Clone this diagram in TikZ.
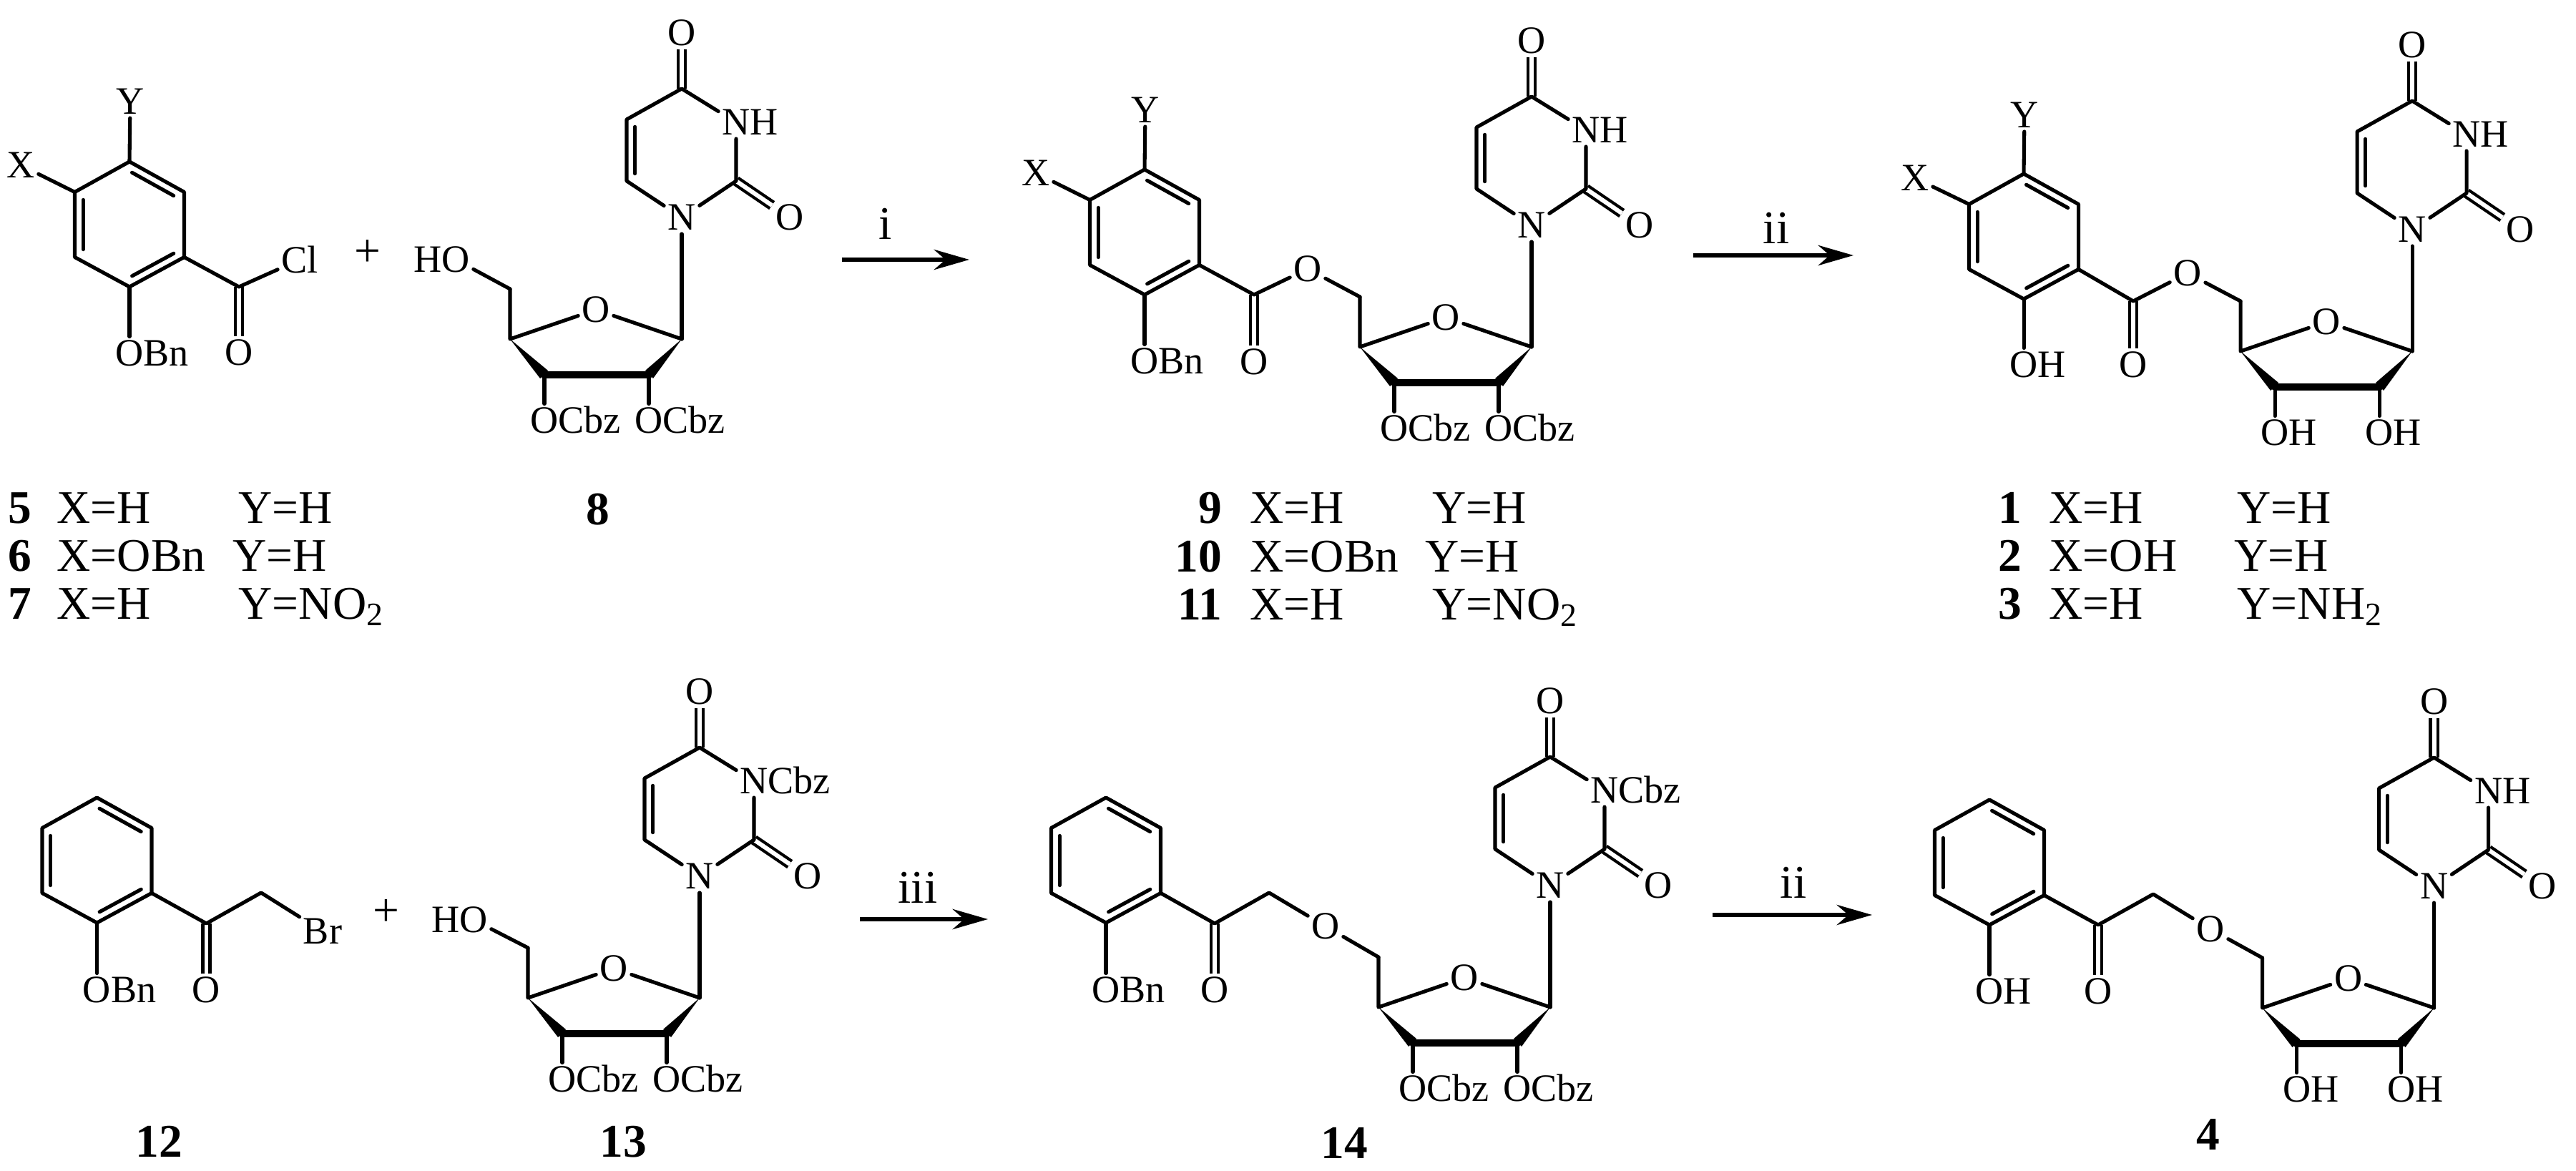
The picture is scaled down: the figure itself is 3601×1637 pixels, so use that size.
\documentclass[tikz,border=0pt]{standalone}
\usepackage{fontspec}
\setmainfont{Liberation Serif}
\usetikzlibrary{calc,arrows.meta}

\newcommand{\atomfont}{\fontsize{15.4}{18}\selectfont}
\newcommand{\listfont}{\fontsize{18.6}{22}\selectfont}

\tikzset{
	bond/.style={line width=1.45pt,line join=round,line cap=round},
	dbond/.style={line width=1.2pt,double,double distance=1.7pt},
	boldbond/.style={line width=3pt,line cap=round},
	atom/.style={font=\atomfont,inner sep=1.5pt,outer sep=0pt},
	tail/.style={font=\atomfont,inner sep=0pt,outer sep=0pt,anchor=base west,xshift=-1.5pt},
	head/.style={font=\atomfont,inner sep=0pt,outer sep=0pt,anchor=base east,xshift=1.5pt},
	listtext/.style={font=\listfont,inner sep=0pt,anchor=base west},
	listnum/.style={font=\listfont\bfseries,inner sep=0pt,anchor=base east},
	cpd/.style={font=\listfont\bfseries,inner sep=0pt},
	reagent/.style={font=\listfont,inner sep=0pt},
	rxn/.style={line width=1.8pt,-{Stealth[length=14pt,width=8pt]}}
}

% inner line of a double bond, on the right of a -> b
\newcommand{\innerbond}[2]{\draw[bond] ($(#1)!0.12!(#2)!3.3pt!-90:(#2)$) -- ($(#2)!0.12!(#1)!3.3pt!90:(#1)$);}

% benzene ring, #2 is its top vertex
\newcommand{\benzring}[2]{
	\begin{scope}[shift={#2},name prefix=#1-]
		\coordinate (r1) at (0,0);
		\coordinate (r2) at (76.5,42.5);
		\coordinate (r3) at (76.5,133.5);
		\coordinate (r4) at (0,175);
		\coordinate (r5) at (-76.5,133.5);
		\coordinate (r6) at (-76.5,42.5);
		\draw[bond] (r1) -- (r2) -- (r3) -- (r4) -- (r5) -- (r6) -- cycle;
		\innerbond{r1}{r2}
		\innerbond{r3}{r4}
		\innerbond{r5}{r6}
	\end{scope}
}

% sugar and uracil, #2 is the carbon under the ring nitrogen
\newcommand{\nucleoside}[4]{
	\begin{scope}[shift={#2},name prefix=#1-]
		\coordinate (c1) at (0,0);
		\coordinate (c2) at (-46,50);
		\coordinate (c3) at (-192,50);
		\coordinate (c4) at (-240,0);
		\coordinate (c5) at (-240,-70);
		\node[atom] (o4s) at (-120,-41) {O};
		\node[atom] (o2s) at (-46,114) {O};
		\node[atom] (o3s) at (-192,114) {O};
		\node[tail] (r2s) at (o2s.base east) {#4};
		\node[tail] (r3s) at (o3s.base east) {#4};
		\node[atom] (n1) at (0,-170) {N};
		\node[atom] (n3) at (76,-303) {N};
		\node[tail] (r3n) at (n3.base east) {#3};
		\coordinate (u2) at (76,-221);
		\coordinate (u4) at (0,-350);
		\coordinate (u5) at (-77,-307);
		\coordinate (u6) at (-77,-221);
		\node[atom] (o2u) at (151,-170) {O};
		\node[atom] (o4u) at (0,-428) {O};
		% double bonds go first, their white core must not cut the others
		\draw[dbond] (u2) -- (o2u);
		\draw[dbond] (u4) -- (o4u);
		\draw[bond] (n1) -- (c1);
		\draw[bond] (n1) -- (u6) -- (u5) -- (u4) -- (n3) -- (u2) -- (n1);
		\innerbond{u6}{u5}
		\draw[bond] (c5) -- (c4) -- (o4s) -- (c1);
		\draw[bond] (c3) -- (o3s);
		\draw[bond] (c2) -- (o2s);
		\fill (c4) -- ($(c3)+(5,-6)$) -- ($(c3)+(-6,5)$) -- cycle;
		\fill (c1) -- ($(c2)+(6,5)$) -- ($(c2)+(-5,-6)$) -- cycle;
		\draw[boldbond] (c3) -- (c2);
	\end{scope}
}

% one row of a compound table
\newcommand{\listrow}[8]{
	\node[listnum] (#1-n) at (#3,#8) {#2};
	\node[listtext] (#1-x) at (#5,#8) {#4};
	\node[listtext] (#1-y) at (#7,#8) {#6};
}

\begin{document}
\begin{tikzpicture}[x=0.01cm,y=-0.01cm]
	\useasboundingbox (0,0) rectangle (3601,1637);

	% compound 5 series
	\benzring{a}{(181,226)}
	\node[atom] (a-x) at (29,231) {X};
	\node[atom] (a-y) at (182,142) {Y};
	\node[atom] (a-ob) at (181,494) {O};
	\node[tail] (a-bn) at (a-ob.base east) {Bn};
	\coordinate (a-co) at (334,401);
	\node[atom] (a-o) at (334,493) {O};
	\node[atom] (a-cl) at (419,363) {Cl};
	\draw[dbond] (a-co) -- (a-o);
	\draw[bond] (a-r6) -- (a-x);
	\draw[bond] (a-r1) -- (a-y);
	\draw[bond] (a-r4) -- (a-ob);
	\draw[bond] (a-r3) -- (a-co) -- (a-cl);
	\node[reagent] (plus1) at (514,354) {+};

	% compound 8
	\nucleoside{b}{(953,474)}{H}{Cbz}
	\node[atom] (b-o5) at (637,363) {O};
	\node[head] (b-h5) at (b-o5.base west) {H};
	\draw[bond] (b-c5) -- (b-o5);
	\node[cpd] (b-lab) at (836,712) {8};

	% step i
	\coordinate (ar1s) at (1177,363);
	\coordinate (ar1e) at (1355,363);
	\draw[rxn] (ar1s) -- (ar1e);
	\node[reagent] (ar1l) at (1238,313) {i};

	% compound 9 series
	\benzring{c}{(1600,237)}
	\node[atom] (c-x) at (1448,242) {X};
	\node[atom] (c-y) at (1601,154) {Y};
	\node[atom] (c-ob) at (1600,505) {O};
	\node[tail] (c-bn) at (c-ob.base east) {Bn};
	\coordinate (c-co) at (1753,412);
	\node[atom] (c-o) at (1753,506) {O};
	\node[atom] (c-oe) at (1828,376) {O};
	\nucleoside{d}{(2141,485)}{H}{Cbz}
	\draw[dbond] (c-co) -- (c-o);
	\draw[bond] (c-r6) -- (c-x);
	\draw[bond] (c-r1) -- (c-y);
	\draw[bond] (c-r4) -- (c-ob);
	\draw[bond] (c-r3) -- (c-co) -- (c-oe) -- (d-c5);

	% step ii
	\coordinate (ar2s) at (2367,357);
	\coordinate (ar2e) at (2591,357);
	\draw[rxn] (ar2s) -- (ar2e);
	\node[reagent] (ar2l) at (2483,319) {ii};

	% compound 1 series
	\benzring{e}{(2829,243)}
	\node[atom] (e-x) at (2677,249) {X};
	\node[atom] (e-y) at (2830,161) {Y};
	\node[atom] (e-ob) at (2829,510) {O};
	\node[tail] (e-h) at (e-ob.base east) {H};
	\coordinate (e-co) at (2982,421);
	\node[atom] (e-o) at (2982,510) {O};
	\node[atom] (e-oe) at (3058,382) {O};
	\nucleoside{f}{(3372,491)}{H}{H}
	\draw[dbond] (e-co) -- (e-o);
	\draw[bond] (e-r6) -- (e-x);
	\draw[bond] (e-r1) -- (e-y);
	\draw[bond] (e-r4) -- (e-ob);
	\draw[bond] (e-r3) -- (e-co) -- (e-oe) -- (f-c5);

	% compound tables
	\listrow{l5}{5}{45}{X=H}{79}{Y=H}{333}{731}
	\listrow{l6}{6}{45}{X=OBn}{79}{Y=H}{325}{798}
	\listrow{l7}{7}{45}{X=H}{79}{Y=NO\textsubscript{2}}{333}{865}
	\listrow{l9}{9}{1709}{X=H}{1747}{Y=H}{2002}{731}
	\listrow{l10}{10}{1709}{X=OBn}{1747}{Y=H}{1992}{799}
	\listrow{l11}{11}{1709}{X=H}{1747}{Y=NO\textsubscript{2}}{2002}{866}
	\listrow{l1}{1}{2827}{X=H}{2864}{Y=H}{3127}{731}
	\listrow{l2}{2}{2827}{X=OH}{2864}{Y=H}{3123}{798}
	\listrow{l3}{3}{2827}{X=H}{2864}{Y=NH\textsubscript{2}}{3127}{865}

	% compound 12
	\benzring{g}{(135.5,1115)}
	\node[atom] (g-ob) at (135.5,1384) {O};
	\node[tail] (g-bn) at (g-ob.base east) {Bn};
	\coordinate (g-co) at (288.5,1291);
	\node[atom] (g-o) at (288.5,1384) {O};
	\coordinate (g-ch) at (365,1248);
	\node[atom] (g-br) at (451,1302) {Br};
	\draw[dbond] (g-co) -- (g-o);
	\draw[bond] (g-r4) -- (g-ob);
	\draw[bond] (g-r3) -- (g-co) -- (g-ch) -- (g-br);
	\node[reagent] (plus2) at (540,1276) {+};
	\node[cpd] (g-lab) at (222,1596) {12};

	% compound 13
	\nucleoside{h}{(978,1395)}{Cbz}{Cbz}
	\node[atom] (h-o5) at (662,1286) {O};
	\node[head] (h-h5) at (h-o5.base west) {H};
	\draw[bond] (h-c5) -- (h-o5);
	\node[cpd] (h-lab) at (871,1596) {13};

	% step iii
	\coordinate (ar3s) at (1202,1285);
	\coordinate (ar3e) at (1381,1285);
	\draw[rxn] (ar3s) -- (ar3e);
	\node[reagent] (ar3l) at (1283,1241) {iii};

	% compound 14
	\benzring{k}{(1546,1115)}
	\node[atom] (k-ob) at (1546,1384) {O};
	\node[tail] (k-bn) at (k-ob.base east) {Bn};
	\coordinate (k-co) at (1698,1291);
	\node[atom] (k-o) at (1698,1384) {O};
	\coordinate (k-ch) at (1774,1248);
	\node[atom] (k-oe) at (1853,1295) {O};
	\nucleoside{m}{(2167,1408)}{Cbz}{Cbz}
	\draw[dbond] (k-co) -- (k-o);
	\draw[bond] (k-r4) -- (k-ob);
	\draw[bond] (k-r3) -- (k-co) -- (k-ch) -- (k-oe) -- (m-c5);
	\node[cpd] (m-lab) at (1879,1598) {14};

	% step ii again
	\coordinate (ar4s) at (2394,1279);
	\coordinate (ar4e) at (2617,1279);
	\draw[rxn] (ar4s) -- (ar4e);
	\node[reagent] (ar4l) at (2507,1234) {ii};

	% compound 4
	\benzring{n}{(2781,1118)}
	\node[atom] (n-ob) at (2781,1386) {O};
	\node[tail] (n-h) at (n-ob.base east) {H};
	\coordinate (n-co) at (2933,1293);
	\node[atom] (n-o) at (2933,1386) {O};
	\coordinate (n-ch) at (3010,1250);
	\node[atom] (n-oe) at (3090,1299) {O};
	\nucleoside{p}{(3402.5,1409)}{H}{H}
	\draw[dbond] (n-co) -- (n-o);
	\draw[bond] (n-r4) -- (n-ob);
	\draw[bond] (n-r3) -- (n-co) -- (n-ch) -- (n-oe) -- (p-c5);
	\node[cpd] (p-lab) at (3087,1586) {4};
\end{tikzpicture}
\end{document}
